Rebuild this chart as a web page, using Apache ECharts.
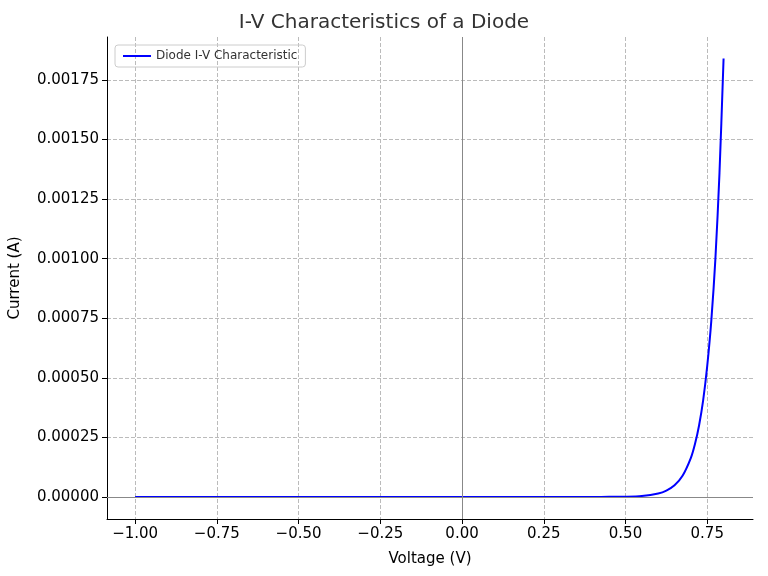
<!DOCTYPE html><html><head><meta charset="utf-8"><script src="https://cdn.jsdelivr.net/npm/echarts@6/dist/echarts.min.js"></script></head><body style="margin:0"><div id="c" style="width:768px;height:576px"></div><script>
const voltage=[-1,-0.75,-0.5,-0.25,0,0.25,0.4,0.45,0.5,0.55,0.6,0.625,0.65,0.675,0.7,0.7125,0.725,0.7375,0.75,0.7625,0.775,0.7875,0.8];
const current=[0,0,0,0,0,0.0000001,0.0000003,0.0000007,0.0000013,0.0000045,0.000015,0.000027,0.000049,0.00009,0.000164,0.000222,0.0003,0.000405,0.00055,0.00074,0.001,0.00136,0.00184];
const xTicks=[-1,-0.75,-0.5,-0.25,0,0.25,0.5,0.75];
const yTicks=[0,0.00025,0.0005,0.00075,0.001,0.00125,0.0015,0.00175];
const ax={fontFamily:'DejaVu Sans',fontSize:15,color:'#000'};
const c=echarts.init(document.getElementById('c'));
c.setOption({
title:{text:'I-V Characteristics of a Diode',left:'center',top:8,textStyle:{fontFamily:'DejaVu Sans',fontSize:20,fontWeight:'normal',color:'#333'}},
legend:{left:115,top:45,orient:'vertical',itemWidth:28,itemHeight:2,borderColor:'#ccc',borderWidth:1,borderRadius:3,padding:[5,8],textStyle:{fontFamily:'DejaVu Sans',fontSize:12,color:'#333'},data:[{name:'Diode I-V Characteristic',icon:'rect'}]},
grid:{left:107,right:15,top:37,bottom:57},
xAxis:{type:'value',min:-1.086,max:0.89,name:'Voltage (V)',nameLocation:'middle',nameGap:33,nameTextStyle:ax,
axisLine:{onZero:false,lineStyle:{color:'#000'}},axisTick:{customValues:xTicks,lineStyle:{color:'#000'}},
axisLabel:{customValues:xTicks,...ax,formatter:v=>v.toFixed(2).replace('-','−')},
splitLine:{show:true,customValues:xTicks,lineStyle:{type:'dashed',color:'#bbb'}}},
yAxis:{type:'value',min:-0.0000923,max:0.00193,name:'Current (A)',nameLocation:'middle',nameGap:84,nameTextStyle:ax,
axisLine:{show:true,onZero:false,lineStyle:{color:'#000'}},axisTick:{show:true,customValues:yTicks,lineStyle:{color:'#000'}},
axisLabel:{customValues:yTicks,...ax,formatter:v=>v.toFixed(5)},
splitLine:{show:true,customValues:yTicks,lineStyle:{type:'dashed',color:'#bbb'}}},
series:[{name:'Diode I-V Characteristic',type:'line',data:voltage.map((v,i)=>[v,current[i]]),smooth:0.3,showSymbol:false,lineStyle:{color:'#0000ff',width:2},itemStyle:{color:'#0000ff'},
markLine:{silent:true,symbol:'none',label:{show:false},lineStyle:{color:'#888',type:'solid',width:1},data:[{xAxis:0},{yAxis:0}]}}]
});
</script></body></html>
